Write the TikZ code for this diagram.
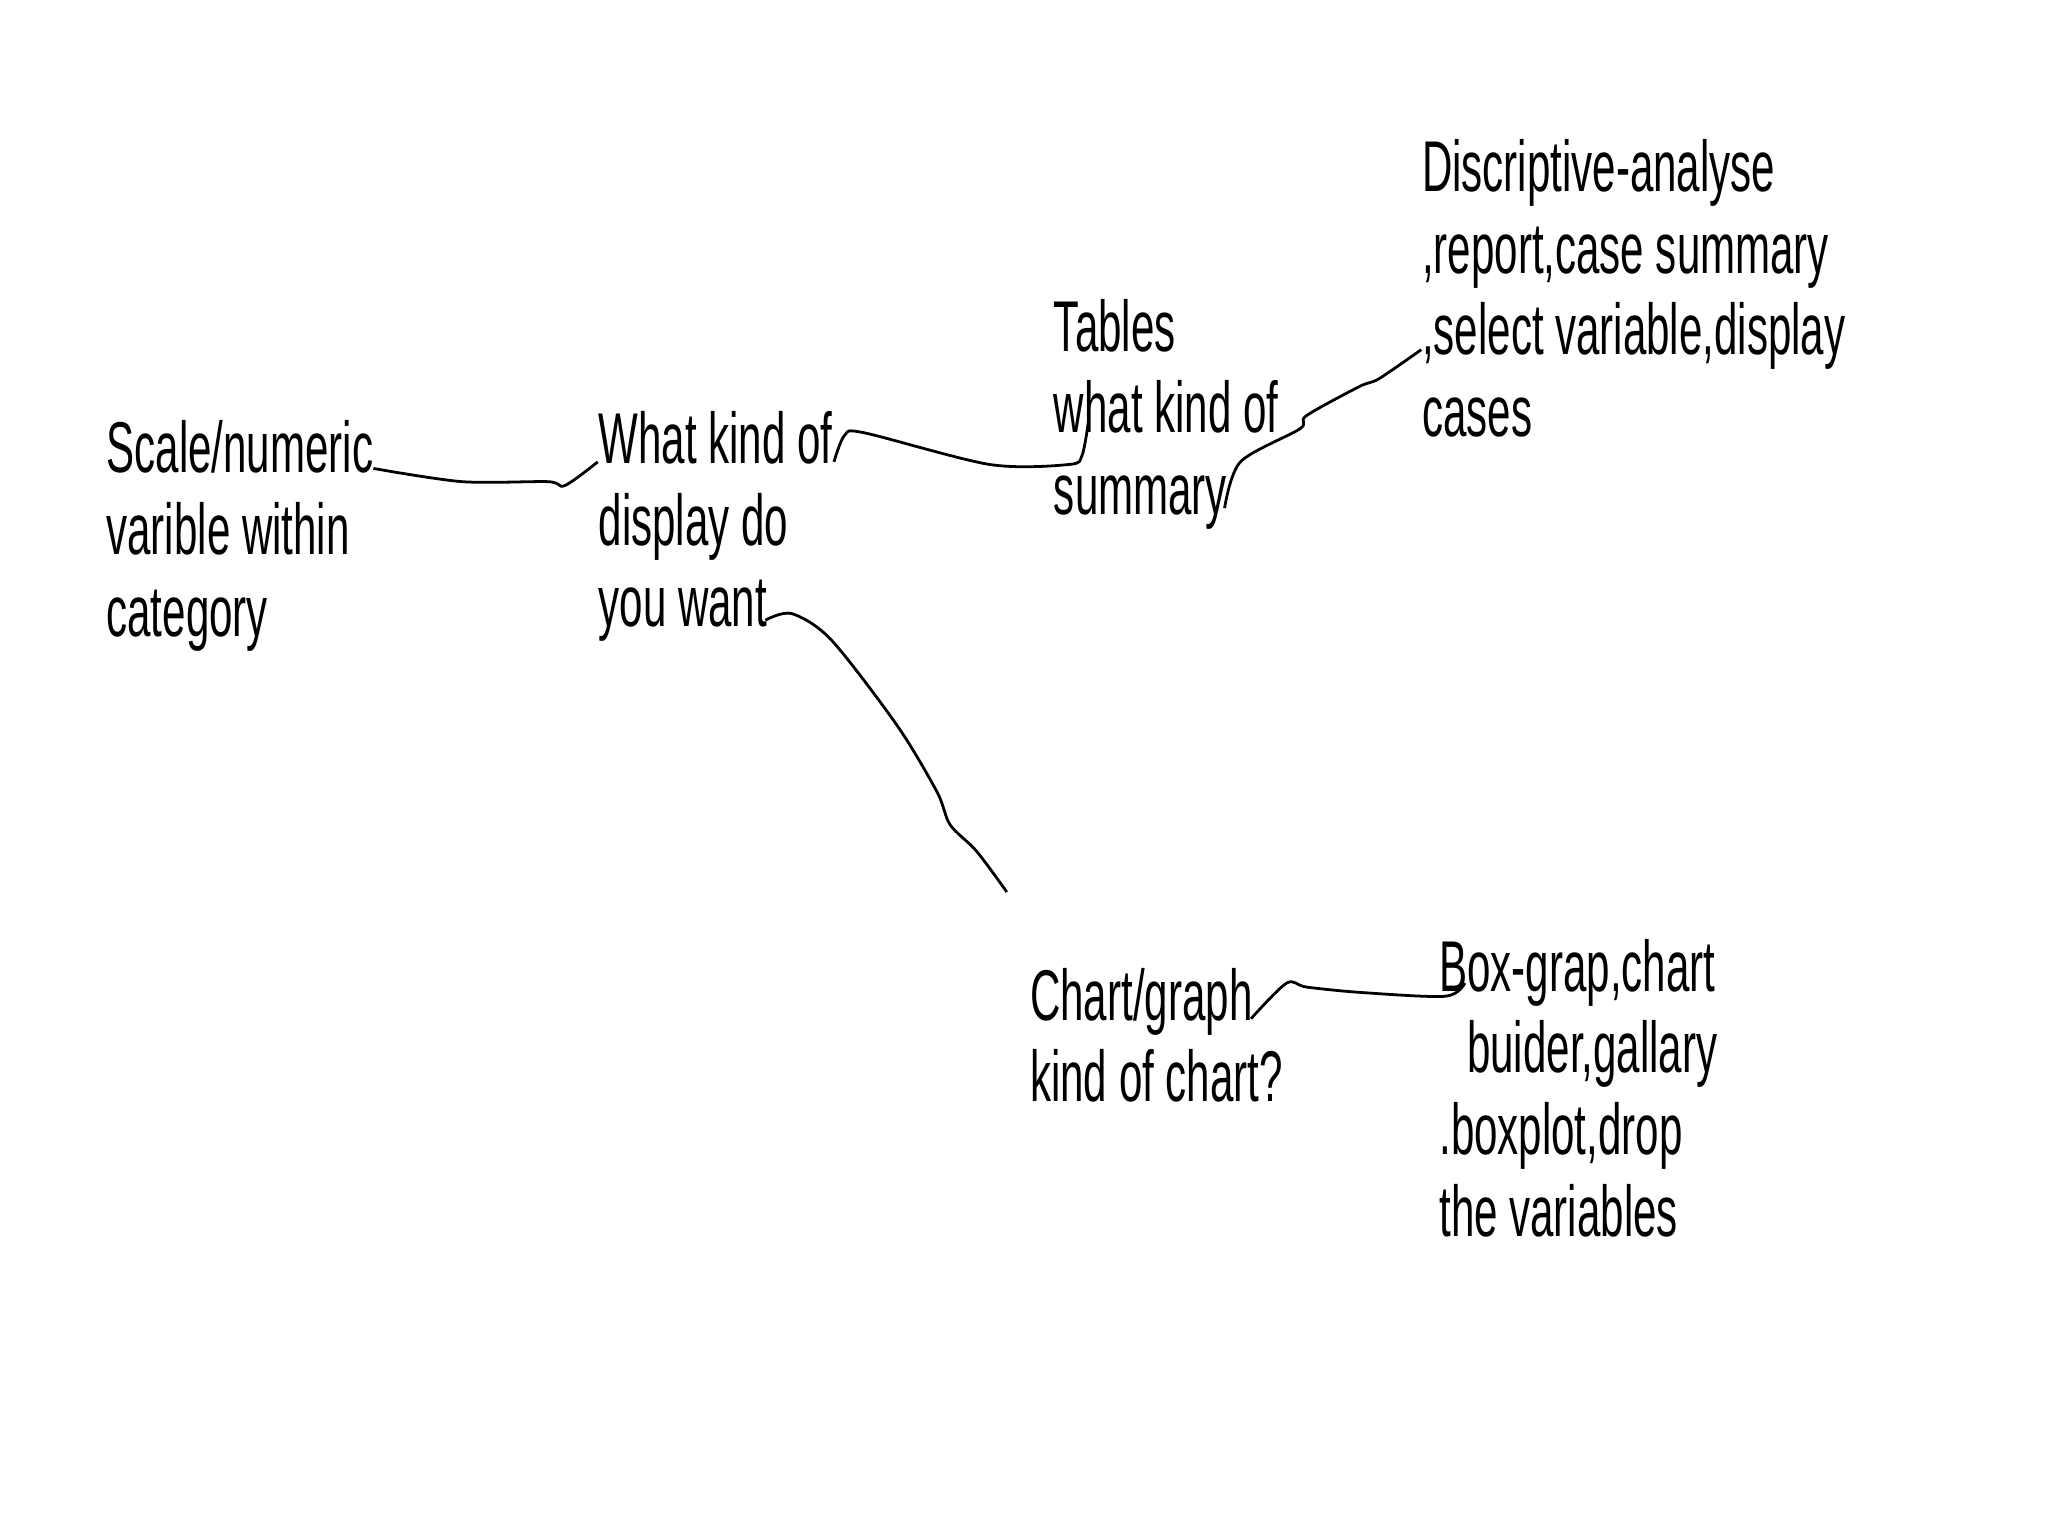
\documentclass[tikz,border=0pt]{standalone}
\usepackage{fontspec}
\setmainfont[FakeStretch=0.585]{Liberation Sans}
\begin{document}
\begin{tikzpicture}[x=0.01cm,y=-0.01cm,
  lbl/.style={anchor=north west,inner sep=0pt,align=left,font=\fontsize{15.5pt}{17.6pt}\selectfont},
  link/.style={draw=black,line width=0.6pt}]
\useasboundingbox (0,0) rectangle (1552,1164);
\node[lbl] (scale) at (80,318) {Scale/numeric\\varible within\\category};
\node[lbl] (kind) at (453,311) {What kind of\\display do\\you want};
\node[lbl] (tables) at (798,226) {Tables\\what kind of\\summary};
\node[lbl] (desc) at (1077,105) {Discriptive-analyse\\,report,case summary\\,select variable,display\\cases};
\node[lbl] (chart) at (780,733) {Chart/graph\\kind of chart?};
\node[lbl] (box) at (1090,711) {Box-grap,chart\\\hspace*{6pt}buider,gallary\\.boxplot,drop\\the variables};
\coordinate (c1) at (763,676);
\draw[link] plot[smooth,tension=0.5] coordinates {(283,355) (350,365) (415,365) (428,368) (453,350)};
\draw[link] plot[smooth,tension=0.5] coordinates {(632,350) (640,330) (655,328) (750,352) (810,352) (820,345) (825,318)};
\draw[link] plot[smooth,tension=0.5] coordinates {(928,385) (940,350) (985,325) (990,315) (1030,293) (1045,287) (1077,265)};
\draw[link] plot[smooth,tension=0.5] coordinates {(580,470) (600,465) (630,485) (680,550) (710,600) (720,625) (740,645) (c1)};
\draw[link] plot[smooth,tension=0.5] coordinates {(948,772) (975,745) (990,748) (1030,752) (1095,755) (1110,745)};
\end{tikzpicture}
\end{document}
